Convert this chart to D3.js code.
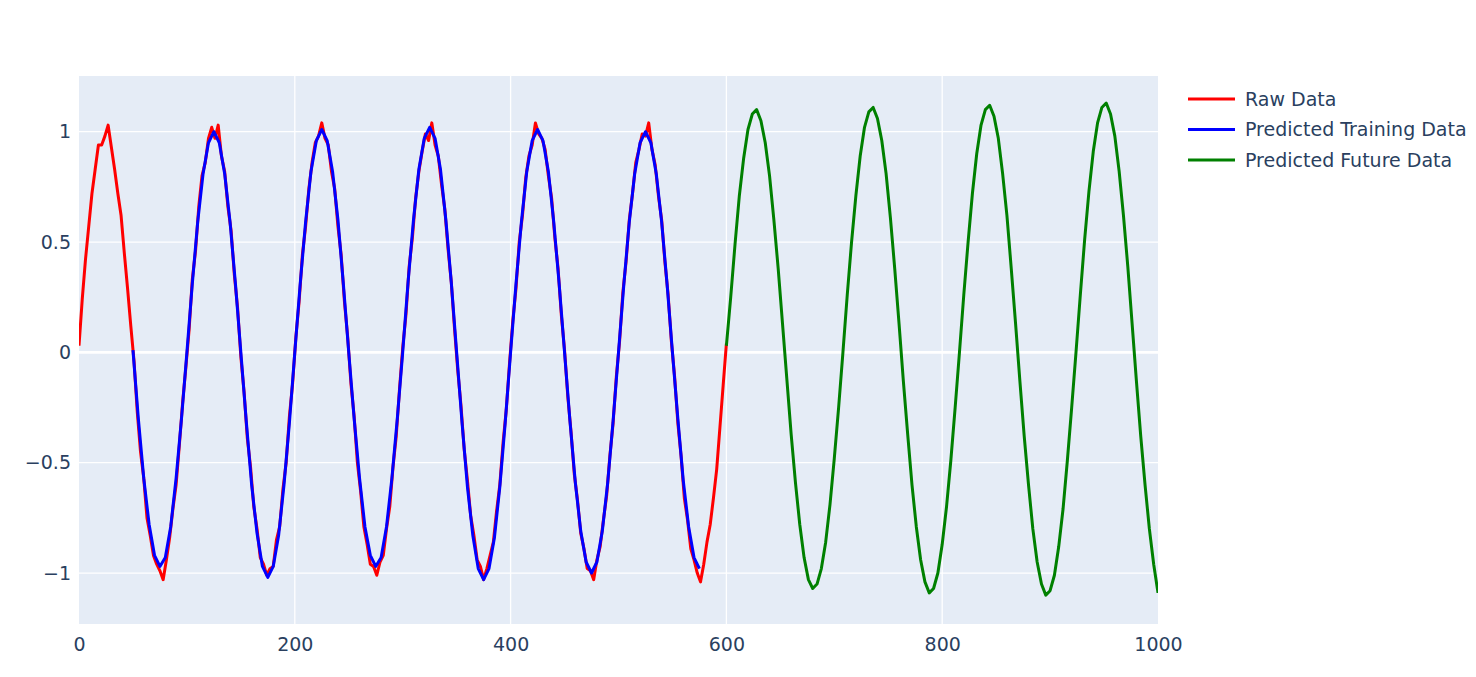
<!DOCTYPE html>
<html>
<head>
<meta charset="utf-8">
<script src="https://cdn.jsdelivr.net/npm/d3@7"></script>
<style>
  html, body { margin: 0; padding: 0; background: #fff; }
  svg { display: block; font-family: "DejaVu Sans", Verdana, sans-serif; }
</style>
</head>
<body>
<svg id="chart" width="1476" height="677"></svg>
<script>
// ---------- data ----------
const rawX = [0,3,6,9,12,15,18,21,24,27,30,33,36,39,42,45,48,51,54,57,60,63,66,69,72,75,78,81,84,87,90,93,96,99,
  102,105,108,111,114,117,120,123,126,129,132,135,138,141,144,147,150,153,156,159,162,165,168,171,174,177,180,183,186,189,192,195,198,
  201,204,207,210,213,216,219,222,225,228,231,234,237,240,243,246,249,252,255,258,261,264,267,270,273,276,279,282,285,288,291,294,297,
  300,303,306,309,312,315,318,321,324,327,330,333,336,339,342,345,348,351,354,357,360,363,366,369,372,375,378,381,384,387,390,393,396,399,
  402,405,408,411,414,417,420,423,426,429,432,435,438,441,444,447,450,453,456,459,462,465,468,471,474,477,480,483,486,489,492,495,498,
  501,504,507,510,513,516,519,522,525,528,531,534,537,540,543,546,549,552,555,558,561,564,567,570,573,576,579,582,585,588,591,594,597,600];
const rawY = [0.03,0.24,0.42,0.57,0.72,0.83,0.94,0.94,0.98,1.03,0.93,0.83,0.72,0.62,0.45,0.29,0.12,-0.04,-0.27,-0.45,-0.57,-0.75,-0.83,-0.92,-0.96,-0.99,-1.03,-0.94,-0.84,-0.71,-0.60,-0.42,-0.23,-0.07,
  0.10,0.33,0.46,0.66,0.80,0.86,0.97,1.02,0.97,1.03,0.89,0.82,0.66,0.55,0.35,0.20,-0.02,-0.18,-0.39,-0.52,-0.70,-0.80,-0.93,-0.96,-1.01,-0.98,-0.97,-0.85,-0.79,-0.62,-0.50,-0.29,-0.14,
  0.07,0.23,0.44,0.57,0.74,0.86,0.95,0.98,1.04,0.97,0.94,0.82,0.74,0.57,0.44,0.23,0.07,-0.14,-0.29,-0.50,-0.63,-0.79,-0.87,-0.96,-0.97,-1.01,-0.95,-0.92,-0.80,-0.70,-0.52,-0.38,-0.17,
  0.02,0.17,0.39,0.52,0.70,0.82,0.91,0.99,0.96,1.04,0.94,0.89,0.76,0.65,0.47,0.32,0.11,-0.08,-0.24,-0.44,-0.58,-0.74,-0.83,-0.94,-0.97,-1.03,-0.98,-0.92,-0.86,-0.72,-0.60,-0.41,-0.26,-0.05,
  0.14,0.29,0.50,0.62,0.79,0.89,0.94,1.04,0.99,0.97,0.92,0.80,0.70,0.52,0.38,0.17,0.01,-0.20,-0.36,-0.55,-0.67,-0.82,-0.89,-0.98,-0.99,-1.03,-0.94,-0.88,-0.76,-0.65,-0.47,-0.32,-0.11,
  0.05,0.27,0.41,0.60,0.72,0.86,0.92,0.99,0.98,1.04,0.92,0.85,0.71,0.60,0.41,0.26,0.05,-0.11,-0.32,-0.47,-0.66,-0.76,-0.89,-0.94,-1.00,-1.04,-0.96,-0.86,-0.78,-0.66,-0.53,-0.34,-0.15,0.04];

const trainX = [50,55,60,65,70,75,80,85,90,95,100,105,110,115,120,125,130,135,140,145,150,155,160,165,170,175,180,185,190,195,
  200,205,210,215,220,225,230,235,240,245,250,255,260,265,270,275,280,285,290,295,300,305,310,315,320,325,330,335,340,345,
  350,355,360,365,370,375,380,385,390,395,400,405,410,415,420,425,430,435,440,445,450,455,460,465,470,475,480,485,490,495,
  500,505,510,515,520,525,530,535,540,545,550,555,560,565,570,575];
const trainY = [0.01,-0.30,-0.57,-0.78,-0.92,-0.97,-0.93,-0.79,-0.57,-0.30,0.00,0.31,0.59,0.81,0.95,1.00,0.95,0.81,0.59,0.31,
  0.00,-0.31,-0.60,-0.82,-0.97,-1.02,-0.97,-0.83,-0.60,-0.32,0.00,0.31,0.59,0.82,0.96,1.01,0.96,0.82,0.60,0.31,
  0.00,-0.30,-0.57,-0.79,-0.92,-0.97,-0.93,-0.79,-0.57,-0.30,0.00,0.32,0.60,0.83,0.97,1.02,0.97,0.83,0.60,0.32,
  0.00,-0.32,-0.61,-0.83,-0.98,-1.03,-0.98,-0.84,-0.61,-0.32,0.00,0.31,0.59,0.82,0.96,1.01,0.96,0.82,0.59,0.31,
  0.00,-0.31,-0.59,-0.81,-0.95,-1.00,-0.95,-0.81,-0.59,-0.31,0.00,0.31,0.59,0.81,0.95,1.00,0.95,0.81,0.59,0.31,
  0.00,-0.30,-0.58,-0.79,-0.93,-0.98];

const futureX = [600,604,608,612,616,620,624,628,632,636,640,644,648,652,656,660,664,668,672,676,680,684,688,692,696,700,704,
  708,712,716,720,724,728,732,736,740,744,748,752,756,760,764,768,772,776,780,784,788,792,796,800,804,808,812,
  816,820,824,828,832,836,840,844,848,852,856,860,864,868,872,876,880,884,888,892,896,900,904,908,912,916,920,
  924,928,932,936,940,944,948,952,956,960,964,968,972,976,980,984,988,992,996,1000];
const futureY = [0.03,0.25,0.49,0.71,0.88,1.01,1.08,1.10,1.05,0.95,0.80,0.60,0.38,0.13,-0.12,-0.37,-0.59,-0.78,-0.93,-1.03,-1.07,-1.05,-0.98,-0.86,-0.69,-0.48,-0.25,
  0.00,0.26,0.50,0.71,0.89,1.02,1.09,1.11,1.06,0.96,0.81,0.61,0.38,0.13,-0.13,-0.37,-0.60,-0.79,-0.94,-1.04,-1.09,-1.07,-1.00,-0.87,-0.70,-0.49,-0.25,
  0.00,0.26,0.50,0.72,0.90,1.03,1.10,1.12,1.07,0.97,0.81,0.62,0.38,0.13,-0.13,-0.38,-0.60,-0.80,-0.95,-1.05,-1.10,-1.08,-1.01,-0.88,-0.71,-0.49,-0.25,
  0.00,0.26,0.51,0.73,0.91,1.04,1.11,1.13,1.08,0.98,0.82,0.62,0.39,0.13,-0.13,-0.38,-0.60,-0.80,-0.96,-1.09];

const seriesNames = ["Raw Data", "Predicted Training Data", "Predicted Future Data"];
const seriesColors = ["#ff0000", "#0000ff", "#008000"];
const xTicks = [0, 200, 400, 600, 800, 1000];
const yTicks = [-1, -0.5, 0, 0.5, 1];
const xDomain = [0, 1000];
const yDomain = [-1.231, 1.2525];

// ---------- layout ----------
const svg = d3.select("#chart");
const plot = { left: 79, top: 76, right: 1158, bottom: 624 };
const textColor = "#2a3f5f";
const fontSize = 19;

const x = d3.scaleLinear().domain(xDomain).range([plot.left, plot.right]);
const y = d3.scaleLinear().domain(yDomain).range([plot.bottom, plot.top]);

svg.append("rect")
  .attr("x", plot.left).attr("y", plot.top)
  .attr("width", plot.right - plot.left).attr("height", plot.bottom - plot.top)
  .attr("fill", "#E5ECF6");

svg.append("defs").append("clipPath").attr("id", "clip")
  .append("rect")
  .attr("x", plot.left).attr("y", plot.top)
  .attr("width", plot.right - plot.left).attr("height", plot.bottom - plot.top);

// grid
const grid = svg.append("g");
grid.selectAll("line.vx").data(xTicks.filter(t => t > xDomain[0] && t < xDomain[1]))
  .join("line")
  .attr("x1", d => x(d)).attr("x2", d => x(d))
  .attr("y1", plot.top).attr("y2", plot.bottom)
  .attr("stroke", "#fff").attr("stroke-width", 1.3);
grid.selectAll("line.hy").data(yTicks)
  .join("line")
  .attr("x1", plot.left).attr("x2", plot.right)
  .attr("y1", d => y(d)).attr("y2", d => y(d))
  .attr("stroke", "#fff").attr("stroke-width", d => d === 0 ? 2.6 : 1.3);

// axes (labels only, via d3 axes)
const xAxis = d3.axisBottom(x).tickValues(xTicks).tickSize(0).tickPadding(14).tickFormat(d3.format("d"));
const gx = svg.append("g").attr("transform", `translate(0,${plot.bottom})`).call(xAxis);
const fmtY = d => (d < 0 ? "\u2212" : "") + d3.format("")(Math.abs(d));
const yAxis = d3.axisLeft(y).tickValues(yTicks).tickSize(0).tickPadding(8).tickFormat(fmtY);
const gy = svg.append("g").attr("transform", `translate(${plot.left},0)`).call(yAxis);
[gx, gy].forEach(g => {
  g.select(".domain").remove();
  g.selectAll("text").attr("fill", textColor).style("font-size", fontSize + "px")
    .style("font-family", '"DejaVu Sans", Verdana, sans-serif');
});

// lines
const line = d3.line().x(d => x(d[0])).y(d => y(d[1]));
const series = [
  d3.zip(rawX, rawY),
  d3.zip(trainX, trainY),
  d3.zip(futureX, futureY)
];
const lines = svg.append("g").attr("clip-path", "url(#clip)");
series.forEach((s, i) => {
  lines.append("path")
    .datum(s)
    .attr("d", line)
    .attr("fill", "none")
    .attr("stroke", seriesColors[i])
    .attr("stroke-width", 3)
    .attr("stroke-linejoin", "round");
});

// legend
const legend = svg.append("g");
seriesNames.forEach((name, i) => {
  const ly = 99 + i * 30.5;
  legend.append("line")
    .attr("x1", 1188).attr("x2", 1235).attr("y1", ly).attr("y2", ly)
    .attr("stroke", seriesColors[i]).attr("stroke-width", 3);
  legend.append("text")
    .attr("x", 1245).attr("y", ly).attr("dy", "0.35em")
    .attr("fill", textColor).style("font-size", fontSize + "px")
    .text(name);
});
</script>
</body>
</html>
